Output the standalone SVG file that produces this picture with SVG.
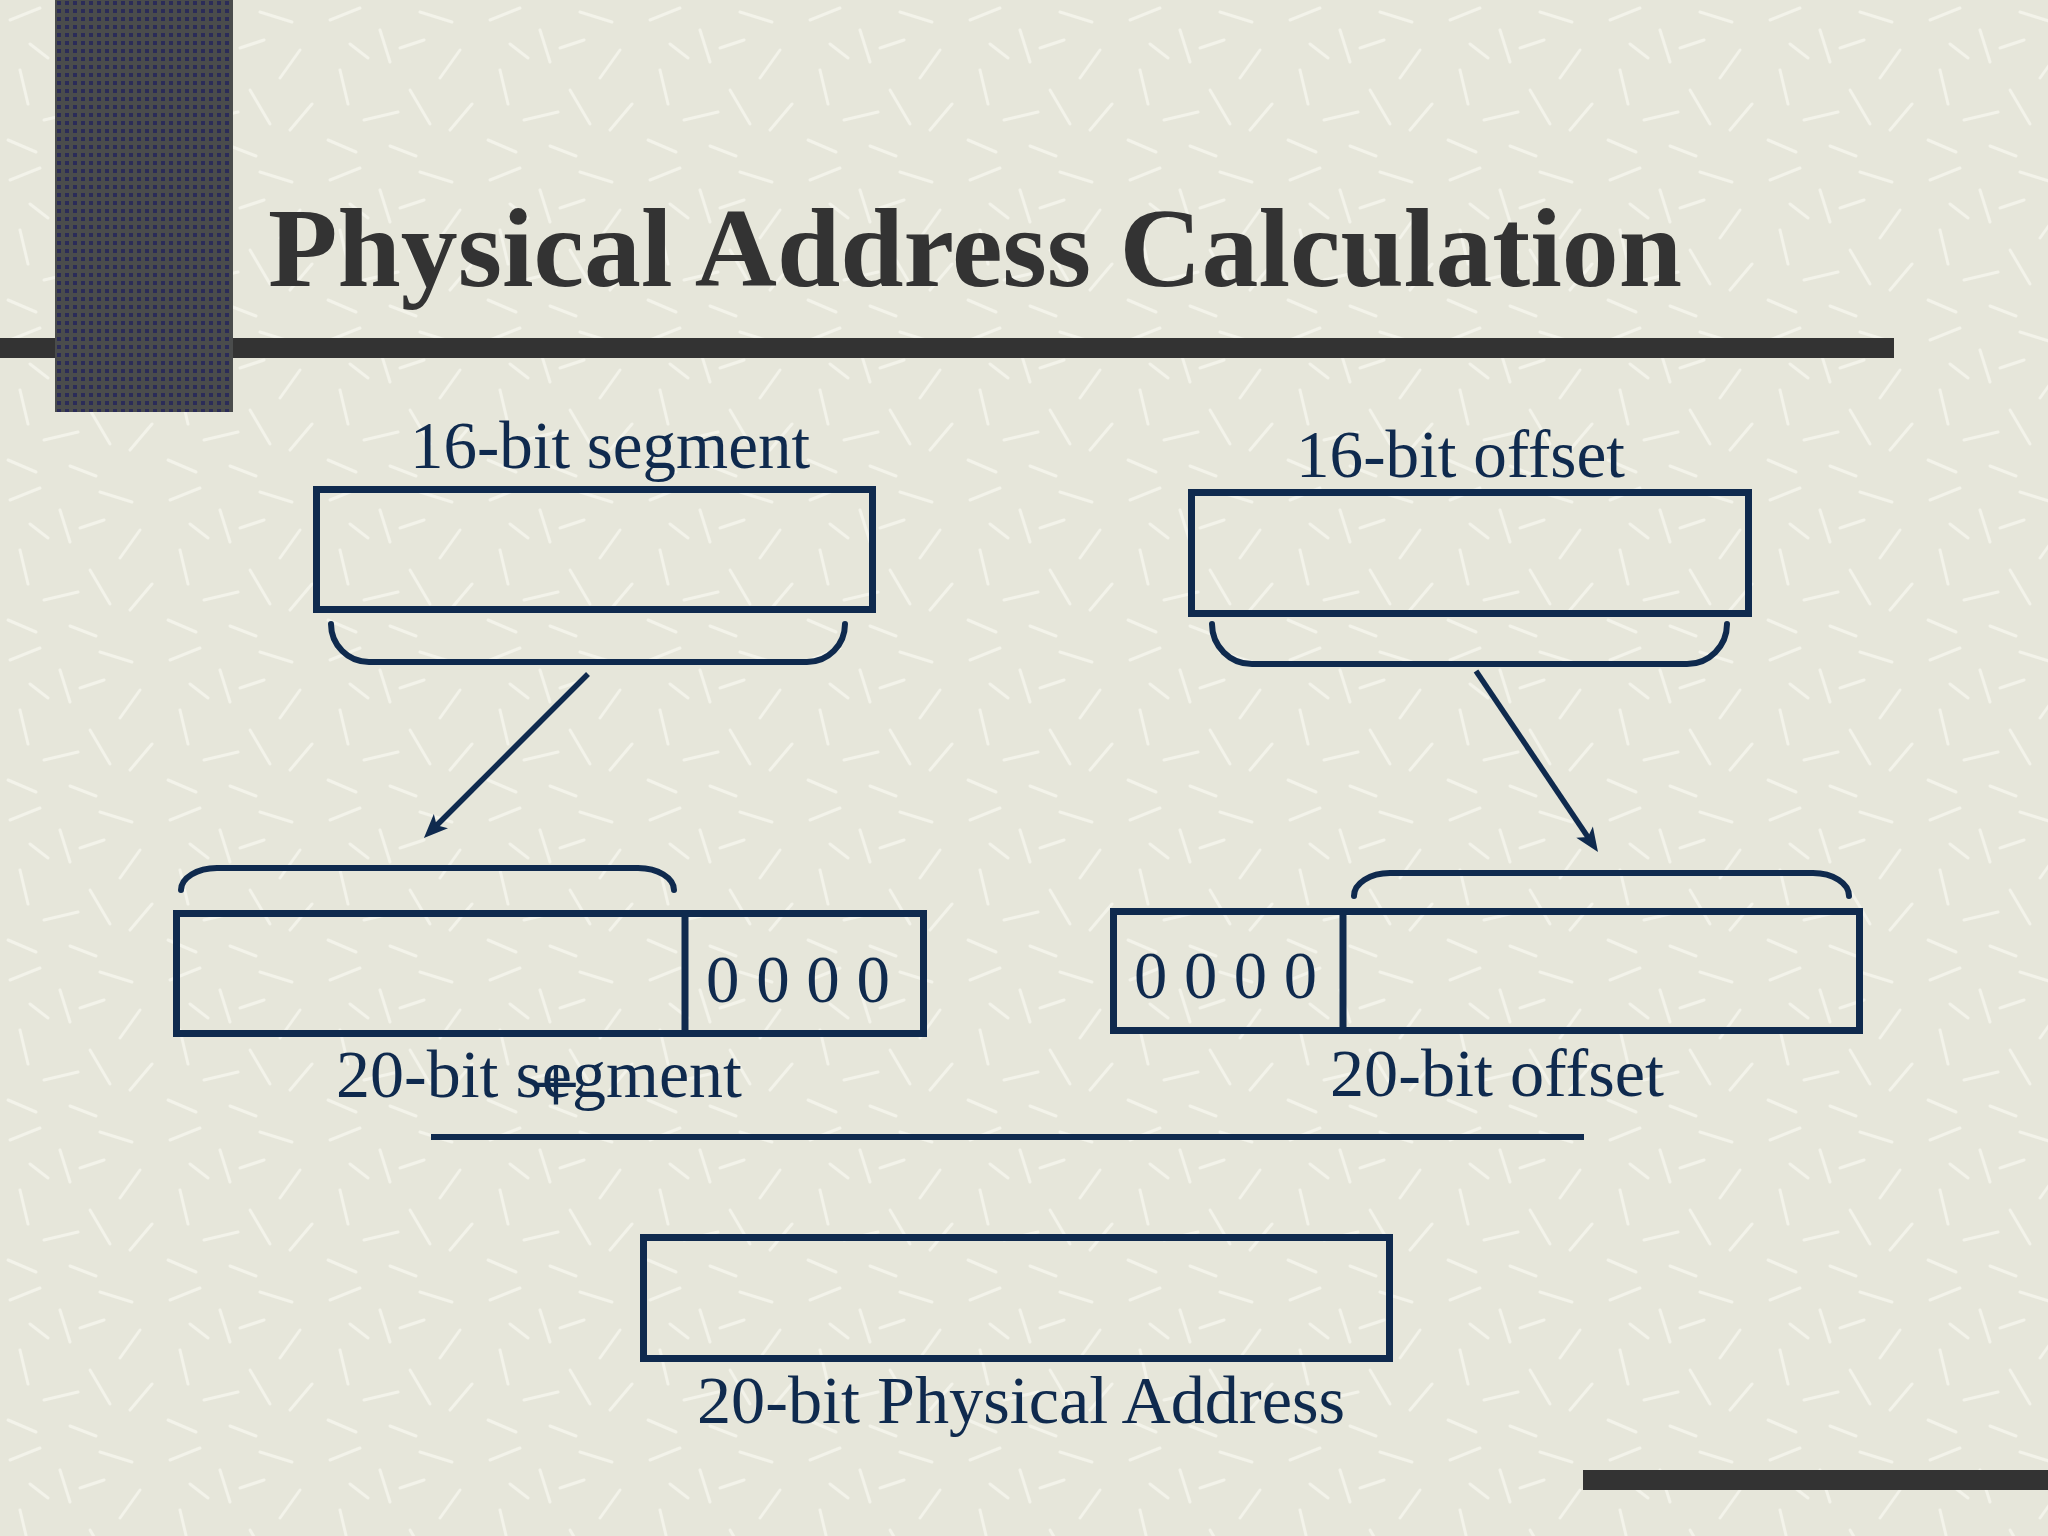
<svg xmlns="http://www.w3.org/2000/svg" width="2048" height="1536" viewBox="0 0 2048 1536">
<defs>
<pattern id="tex" width="160" height="160" patternUnits="userSpaceOnUse">
<rect width="160" height="160" fill="#e6e6da"/>
<g stroke="#f6f6ee" stroke-width="3" stroke-linecap="round" opacity="0.8">
<line x1="10" y1="20" x2="40" y2="8"/>
<line x1="60" y1="30" x2="70" y2="62"/>
<line x1="100" y1="12" x2="132" y2="22"/>
<line x1="140" y1="50" x2="120" y2="78"/>
<line x1="20" y1="70" x2="28" y2="104"/>
<line x1="44" y1="120" x2="78" y2="112"/>
<line x1="90" y1="90" x2="110" y2="124"/>
<line x1="130" y1="130" x2="152" y2="104"/>
<line x1="8" y1="140" x2="36" y2="152"/>
<line x1="70" y1="146" x2="96" y2="156"/>
<line x1="80" y1="48" x2="104" y2="40"/>
<line x1="30" y1="44" x2="48" y2="58"/>
</g>
</pattern>
<pattern id="dots" width="8" height="8" patternUnits="userSpaceOnUse">
<rect width="8" height="8" fill="#4a4c4c"/>
<rect x="1" y="1" width="4" height="4" fill="#2b2c58"/>
</pattern>
<marker id="ah" viewBox="-16 -12 30 24" markerWidth="30" markerHeight="24" refX="0" refY="0" orient="auto" markerUnits="userSpaceOnUse">
<path d="M10,0 L-14,-10 L-8,0 L-14,10 Z" fill="#0f2a4e"/>
</marker>
<style>
.box{fill:none;stroke:#0f2a4e;stroke-width:7}
.brace{fill:none;stroke:#0f2a4e;stroke-width:6;stroke-linecap:round}
.lbl{font-family:"Liberation Serif","Times New Roman",serif;font-size:67px;fill:#0f2a4e}
.conn{fill:none;stroke:#0f2a4e;stroke-width:5.5}
</style>
</defs>
<rect width="2048" height="1536" fill="url(#tex)"/>
<rect x="0" y="338" width="1894" height="20" fill="#333333"/>
<rect x="55" y="0" width="178" height="412" fill="url(#dots)"/>
<rect x="1583" y="1470" width="465" height="20" fill="#333333"/>
<text x="268" y="286" font-family="'Liberation Serif','Times New Roman',serif" font-weight="bold" font-size="113" fill="#333333" textLength="1414" lengthAdjust="spacingAndGlyphs">Physical Address Calculation</text>

<g id="seg16">
<rect class="box" x="316.5" y="489.5" width="556" height="120"/>
<path class="brace" d="M331,624 A38,38 0 0 0 369,662 H807 A38,38 0 0 0 845,624"/>
<text class="lbl" x="410" y="468" textLength="400" lengthAdjust="spacingAndGlyphs">16-bit segment</text>
</g>
<g id="off16">
<rect class="box" x="1191.5" y="492.5" width="557" height="121"/>
<path class="brace" d="M1212,624 A40,40 0 0 0 1252,664 H1687 A40,40 0 0 0 1727,624"/>
<text class="lbl" x="1296" y="477" textLength="329" lengthAdjust="spacingAndGlyphs">16-bit offset</text>
</g>
<g id="seg20">
<path class="brace" d="M181,890 A36,22 0 0 1 217,868 H638 A36,22 0 0 1 674,890"/>
<rect class="box" x="176.5" y="913.5" width="747" height="120"/>
<line class="box" x1="685" y1="913.5" x2="685" y2="1033.5"/>
<text class="lbl" x="706" y="1002" textLength="184" lengthAdjust="spacingAndGlyphs">0 0 0 0</text>
<text class="lbl" x="336" y="1097" textLength="406" lengthAdjust="spacingAndGlyphs">20-bit segment</text>
</g>
<g id="off20">
<path class="brace" d="M1354,896 A36,23 0 0 1 1390,873 H1813 A36,23 0 0 1 1849,896"/>
<rect class="box" x="1113.5" y="911.5" width="746" height="119"/>
<line class="box" x1="1343" y1="911.5" x2="1343" y2="1030.5"/>
<text class="lbl" x="1134" y="998" textLength="183" lengthAdjust="spacingAndGlyphs">0 0 0 0</text>
<text class="lbl" x="1330" y="1096" textLength="334" lengthAdjust="spacingAndGlyphs">20-bit offset</text>
</g>
<g id="plus">
<text x="556" y="1113" text-anchor="middle" font-family="'Liberation Serif','Times New Roman',serif" font-size="85" fill="#0f2a4e">+</text>
</g>
<g id="phys20">
<rect class="box" x="643.5" y="1237.5" width="746" height="121"/>
<text class="lbl" x="697" y="1423" textLength="648" lengthAdjust="spacingAndGlyphs">20-bit Physical Address</text>
</g>
<g id="connectors">
<line class="conn" x1="588" y1="674" x2="431" y2="831" marker-end="url(#ah)"/>
<line class="conn" x1="1476" y1="671" x2="1592.4" y2="843.7" marker-end="url(#ah)"/>
<line x1="431" y1="1137" x2="1584" y2="1137" stroke="#0f2a4e" stroke-width="6"/>
</g>
</svg>
